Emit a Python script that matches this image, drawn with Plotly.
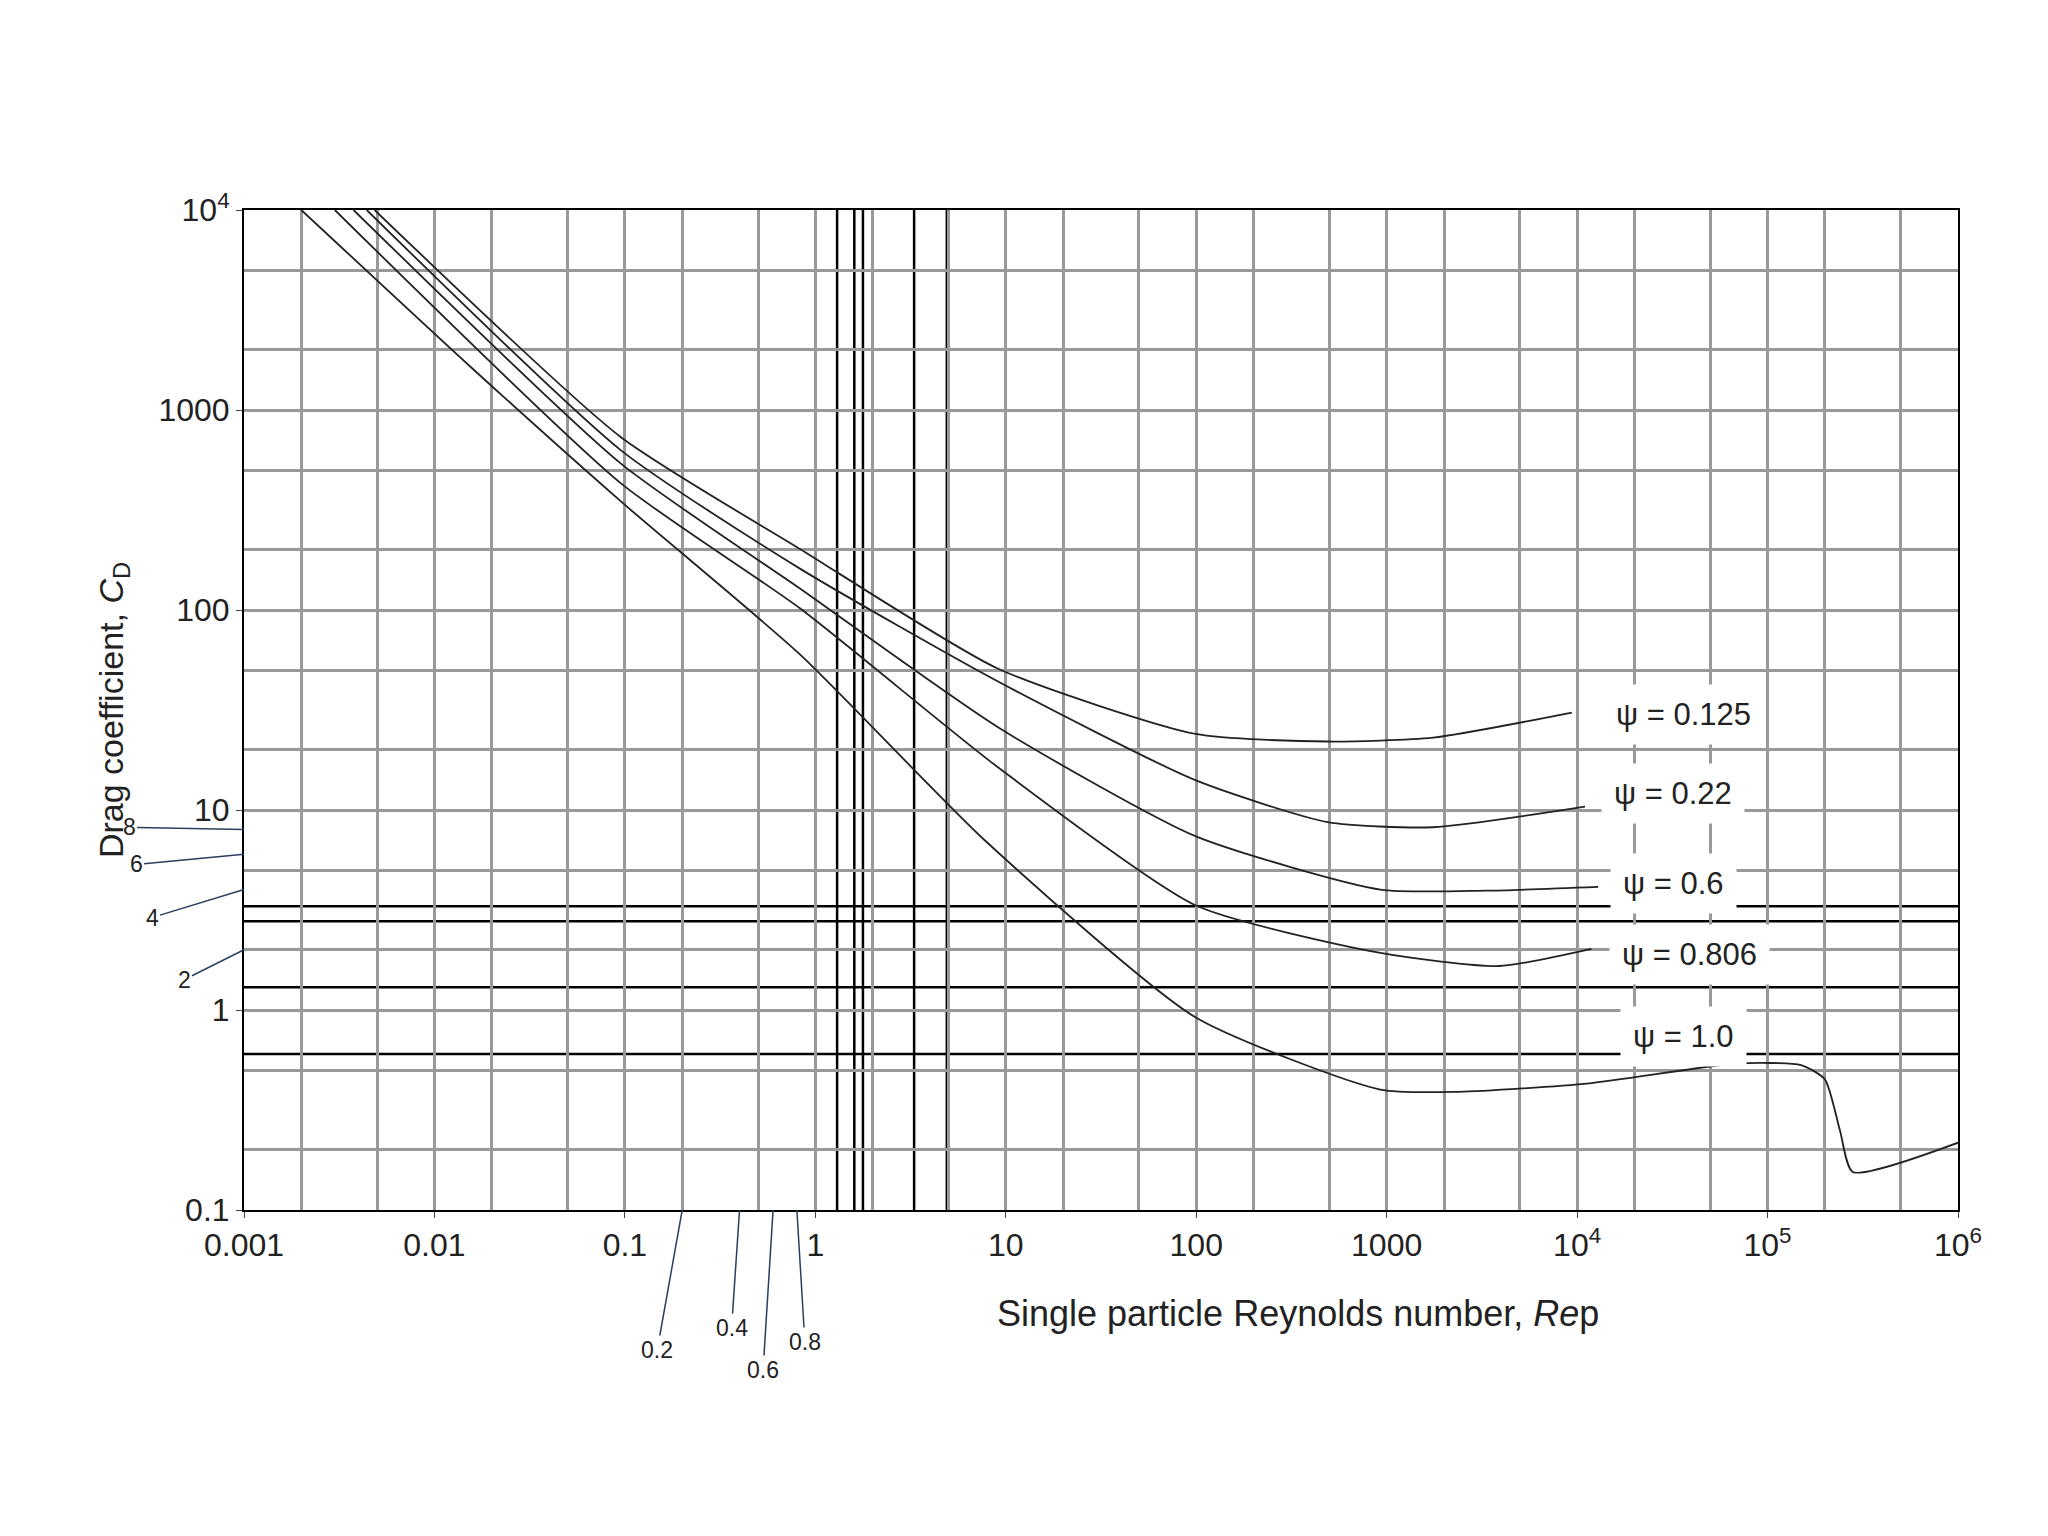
import math
import plotly.graph_objects as go

re_100 = [0.002, 0.0153, 0.095, 0.83, 7.7, 99, 927, 2400, 11600, 69000, 150000, 200000, 240000, 280000, 1000000]
cd_100 = [10000, 1660, 350, 60, 7.1, 0.92, 0.40, 0.39, 0.43, 0.54, 0.53, 0.45, 0.25, 0.155, 0.217]
re_0806 = [0.0030, 0.095, 0.83, 9.06, 99, 927, 3890, 11900]
cd_0806 = [10000, 431, 102, 16.4, 3.34, 1.93, 1.66, 2.02]
re_060 = [0.00376, 0.095, 0.83, 9.06, 99, 927, 3320, 12900]
cd_060 = [10000, 541, 128, 26, 7.4, 4.0, 3.95, 4.13]
re_022 = [0.00441, 0.095, 0.83, 9.06, 99, 490, 1750, 11000]
cd_022 = [10000, 630, 161, 44, 14.1, 8.7, 8.2, 10.4]
re_0125 = [0.00485, 0.095, 0.83, 9.06, 99, 490, 1750, 9380]
cd_0125 = [10000, 733, 202, 51, 24, 22, 23, 30.7]

labels = ["ψ = 0.125", "ψ = 0.22", "ψ = 0.6", "ψ = 0.806", "ψ = 1.0"]
label_re = [36000, 32000, 32000, 39000, 36000]
label_cd = [30, 12.1, 4.3, 1.9, 0.74]

x_ticks = [0.001, 0.01, 0.1, 1, 10, 100, 1000, 1e4, 1e5, 1e6]
x_text = ["0.001", "0.01", "0.1", "1", "10", "100", "1000", "10<sup>4</sup>", "10<sup>5</sup>", "10<sup>6</sup>"]
y_ticks = [0.1, 1, 10, 100, 1000, 1e4]
y_text = ["0.1", "1", "10", "100", "1000", "10<sup>4</sup>"]
black_x = [0.065, 0.08, 0.1, 0.8, 20, 40, 60, 2000, 80000, 100000]
black_y = [2000, 600, 20, 4]
side_labels = ["8", "6", "4", "2"]
side_vals = [8, 6, 4, 2]
bottom_labels = ["0.2", "0.4", "0.6", "0.8"]
bottom_vals = [0.2, 0.4, 0.6, 0.8]

L = math.log10
fig = go.Figure()
for xs, ys in [(re_100, cd_100), (re_0806, cd_0806), (re_060, cd_060), (re_022, cd_022), (re_0125, cd_0125)]:
    fig.add_trace(go.Scatter(x=xs, y=ys, mode="lines", line=dict(color="#222", width=1.8, shape="spline", smoothing=0.6), showlegend=False))

for v in black_x:
    fig.add_shape(type="line", xref="x", yref="paper", x0=L(v), x1=L(v), y0=0, y1=1, line=dict(color="black", width=2.5), layer="below")
for v in black_y:
    fig.add_shape(type="line", xref="paper", yref="y", x0=0, x1=1, y0=L(v), y1=L(v), line=dict(color="black", width=2.5), layer="below")

for t, xv, yv in zip(labels, label_re, label_cd):
    fig.add_annotation(x=L(xv), y=L(yv), xref="x", yref="y", text=t, showarrow=False, bgcolor="white",
                       font=dict(size=31, color="#222"), borderpad=12)

side_ax = [-115, -108, -92, -60]
side_ay = [-2, 10, 28, 30]
for t, v, ax, ay in zip(side_labels, side_vals, side_ax, side_ay):
    fig.add_annotation(x=0, y=L(v), xref="paper", yref="y", text=t, showarrow=True, arrowhead=0, arrowwidth=1.5,
                       ax=ax, ay=ay, font=dict(size=23, color="#222"))
bot_ax = [-25, -8, -10, 8]
bot_ay = [140, 118, 160, 132]
for t, v, ax, ay in zip(bottom_labels, bottom_vals, bot_ax, bot_ay):
    fig.add_annotation(x=L(v), y=0, xref="x", yref="paper", text=t, showarrow=True, arrowhead=0, arrowwidth=1.5,
                       ax=ax, ay=ay, font=dict(size=23, color="#222"))

fig.add_annotation(x=0.615, y=-0.126, xref="paper", yref="paper", text="Single particle Reynolds number, <i>Re</i>p",
                   showarrow=False, font=dict(size=36, color="#222"))

fig.update_xaxes(type="log", range=[-3, 6], tickvals=x_ticks, ticktext=x_text, ticks="outside", ticklen=6,
                 showgrid=True, gridcolor="#999", gridwidth=2.5,
                 minor=dict(showgrid=True, gridcolor="#999", gridwidth=2.5, ticks=""),
                 showline=True, linecolor="black", linewidth=2, mirror=True, zeroline=False,
                 tickfont=dict(size=32, color="#222"))
fig.update_yaxes(type="log", range=[-1, 4], tickvals=y_ticks, ticktext=y_text, ticks="outside", ticklen=6,
                 showgrid=True, gridcolor="#999", gridwidth=2.5,
                 minor=dict(showgrid=True, gridcolor="#999", gridwidth=2.5, ticks=""),
                 showline=True, linecolor="black", linewidth=2, mirror=True, zeroline=False,
                 tickfont=dict(size=32, color="#222"),
                 title=dict(text="Drag coefficient, <i>C</i><sub>D</sub>", font=dict(size=34, color="#222"), standoff=25))

fig.update_layout(width=2048, height=1536, paper_bgcolor="white", plot_bgcolor="white",
                  margin=dict(l=236, r=98, t=202, b=334), font=dict(family="Liberation Sans, Arial"))
fig.write_html("out.html")
